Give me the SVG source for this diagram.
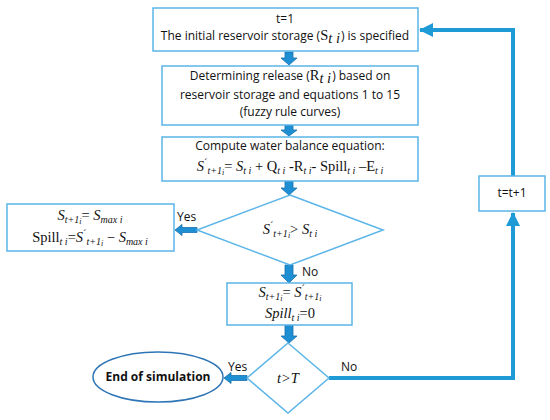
<svg xmlns="http://www.w3.org/2000/svg" width="550" height="420" viewBox="0 0 550 420">
<defs>
<style>
.box{fill:#fff;stroke:#5BB5E8;stroke-width:1.5}
.ell{fill:#fff;stroke:#2E75B6;stroke-width:1.5}
.blk{fill:#1F8FD3;stroke:#1670AE;stroke-width:0.8}
.loop{fill:none;stroke:#1E9AD6;stroke-width:4}
.t{font-family:"Open Sans","Liberation Sans",sans-serif;font-size:12px;fill:#111}
.m{font-family:"Liberation Serif","DejaVu Serif",serif;font-size:14.5px;fill:#111}
.i{font-style:italic}
.lbl{font-family:"Open Sans","Liberation Sans",sans-serif;font-size:12px;fill:#111}
</style>
<marker id="ah" markerWidth="14" markerHeight="14" refX="13" refY="7" orient="auto" markerUnits="userSpaceOnUse">
<path d="M0,0 L14,7 L0,14 Z" fill="#1E9AD6"/>
</marker>
</defs>
<rect width="550" height="420" fill="#fff"/>

<g id="connectors">
<path class="blk" d="M285,52 H293 V58 H297 L289,65 L281,58 H285 Z"/>
<path class="blk" d="M285,125 H293 V130 H297 L289,136 L281,130 H285 Z"/>
<path class="blk" d="M285,181 H293 V188 H297 L289,195 L281,188 H285 Z"/>
<path class="blk" d="M285,265 H293 V275 H297 L289,283 L281,275 H285 Z"/>
<path class="blk" d="M285,325 H293 V336 H297 L289,343 L281,336 H285 Z"/>
<path class="blk" d="M197,227.5 V232.5 H182 V235.5 L175,230 L182,224.5 V227.5 Z"/>
<path class="blk" d="M247,375.5 V380.5 H231 V383.5 L224,378 L231,372.5 V375.5 Z"/>
<path class="loop" d="M329,378 H513 V213" marker-end="url(#ah)"/>
<path class="loop" d="M513,176 V30 H420" marker-end="url(#ah)"/>
<text class="lbl" x="177" y="221">Yes</text>
<text class="lbl" x="302" y="276">No</text>
<text class="lbl" x="228" y="371">Yes</text>
<text class="lbl" x="341" y="371">No</text>
</g>

<g id="n1">
<rect class="box" x="153" y="8" width="265" height="43"/>
<text class="t" x="285" y="23" text-anchor="middle">t=1</text>
<text class="t" x="285" y="40" text-anchor="middle">The initial reservoir storage (<tspan class="m" font-size="13">S</tspan><tspan class="m i" font-size="9" dy="3">t i</tspan><tspan dx="1" dy="-3">) is specified</tspan></text>
</g>

<g id="n2">
<rect class="box" x="162" y="66" width="256" height="59"/>
<text class="t" x="290" y="80" text-anchor="middle">Determining release (<tspan class="m" font-size="13">R</tspan><tspan class="m i" font-size="9" dy="2.5">t i</tspan><tspan dx="1" dy="-2.5">) based on</tspan></text>
<text class="t" x="290" y="99" text-anchor="middle">reservoir storage and equations 1 to 15</text>
<text class="t" x="290" y="116" text-anchor="middle">(fuzzy rule curves)</text>
</g>

<g id="n3">
<rect class="box" x="162" y="137" width="256" height="44"/>
<text class="t" x="290" y="150" text-anchor="middle">Compute water balance equation:</text>
<text class="m" x="290" y="171" text-anchor="middle"><tspan class="i">S</tspan><tspan font-size="10" dy="-5">´</tspan><tspan class="i" font-size="10" dy="8">t+1</tspan><tspan class="i" font-size="8" dy="1">i</tspan><tspan dy="-4">= </tspan><tspan class="i">S</tspan><tspan class="i" font-size="10" dy="3">t i</tspan><tspan dy="-3"> + Q</tspan><tspan class="i" font-size="10" dy="3">t i</tspan><tspan dy="-3"> -R</tspan><tspan class="i" font-size="10" dy="3">t i</tspan><tspan dy="-3">- Spill</tspan><tspan class="i" font-size="10" dy="3">t i</tspan><tspan dy="-3"> –E</tspan><tspan class="i" font-size="10" dy="3">t i</tspan></text>
</g>

<g id="n4">
<rect class="box" x="7" y="204" width="167" height="47"/>
<text class="m" x="90" y="220" text-anchor="middle"><tspan class="i">S</tspan><tspan class="i" font-size="10" dy="3">t+1</tspan><tspan class="i" font-size="8" dy="1">i</tspan><tspan dy="-4">= </tspan><tspan class="i">S</tspan><tspan class="i" font-size="10" dy="3">max i</tspan></text>
<text class="m" x="90" y="242" text-anchor="middle">Spill<tspan class="i" font-size="10" dy="3">t i</tspan><tspan dy="-3">=</tspan><tspan class="i">S</tspan><tspan font-size="10" dy="-5">´</tspan><tspan class="i" font-size="10" dy="8">t+1</tspan><tspan class="i" font-size="8" dy="1">i</tspan><tspan dy="-4"> − </tspan><tspan class="i">S</tspan><tspan class="i" font-size="10" dy="3">max i</tspan></text>
</g>

<g id="n5">
<polygon class="box" points="290,195 383,230 290,265 197,230"/>
<text class="m" x="290" y="234" text-anchor="middle" font-size="15"><tspan class="i">S</tspan><tspan font-size="10" dy="-5">´</tspan><tspan class="i" font-size="10" dy="8">t+1</tspan><tspan class="i" font-size="8" dy="1">i</tspan><tspan dy="-4">&gt; </tspan><tspan class="i">S</tspan><tspan class="i" font-size="10" dy="3">t i</tspan></text>
</g>

<g id="n6">
<rect class="box" x="227" y="283" width="125" height="42"/>
<text class="m" x="290" y="297" text-anchor="middle"><tspan class="i">S</tspan><tspan class="i" font-size="10" dy="3">t+1</tspan><tspan class="i" font-size="8" dy="1">i</tspan><tspan dy="-4">= </tspan><tspan class="i">S</tspan><tspan font-size="10" dy="-5">´</tspan><tspan class="i" font-size="10" dy="8">t+1</tspan><tspan class="i" font-size="8" dy="1">i</tspan></text>
<text class="m" x="290" y="318" text-anchor="middle"><tspan class="i">Spill</tspan><tspan class="i" font-size="10" dy="3">t i</tspan><tspan dy="-3">=0</tspan></text>
</g>

<g id="n7">
<polygon class="box" points="288,343 329,378 288,413 247,378"/>
<text class="m i" x="288" y="383" text-anchor="middle" font-size="15">t&gt;T</text>
</g>

<g id="n8">
<ellipse class="ell" cx="158" cy="377" rx="65" ry="25"/>
<text class="t" x="158" y="381" text-anchor="middle" font-weight="bold">End of simulation</text>
</g>

<g id="n9">
<rect class="box" x="479" y="176" width="66" height="35"/>
<text class="t" x="512" y="197" text-anchor="middle">t=t+1</text>
</g>
</svg>
